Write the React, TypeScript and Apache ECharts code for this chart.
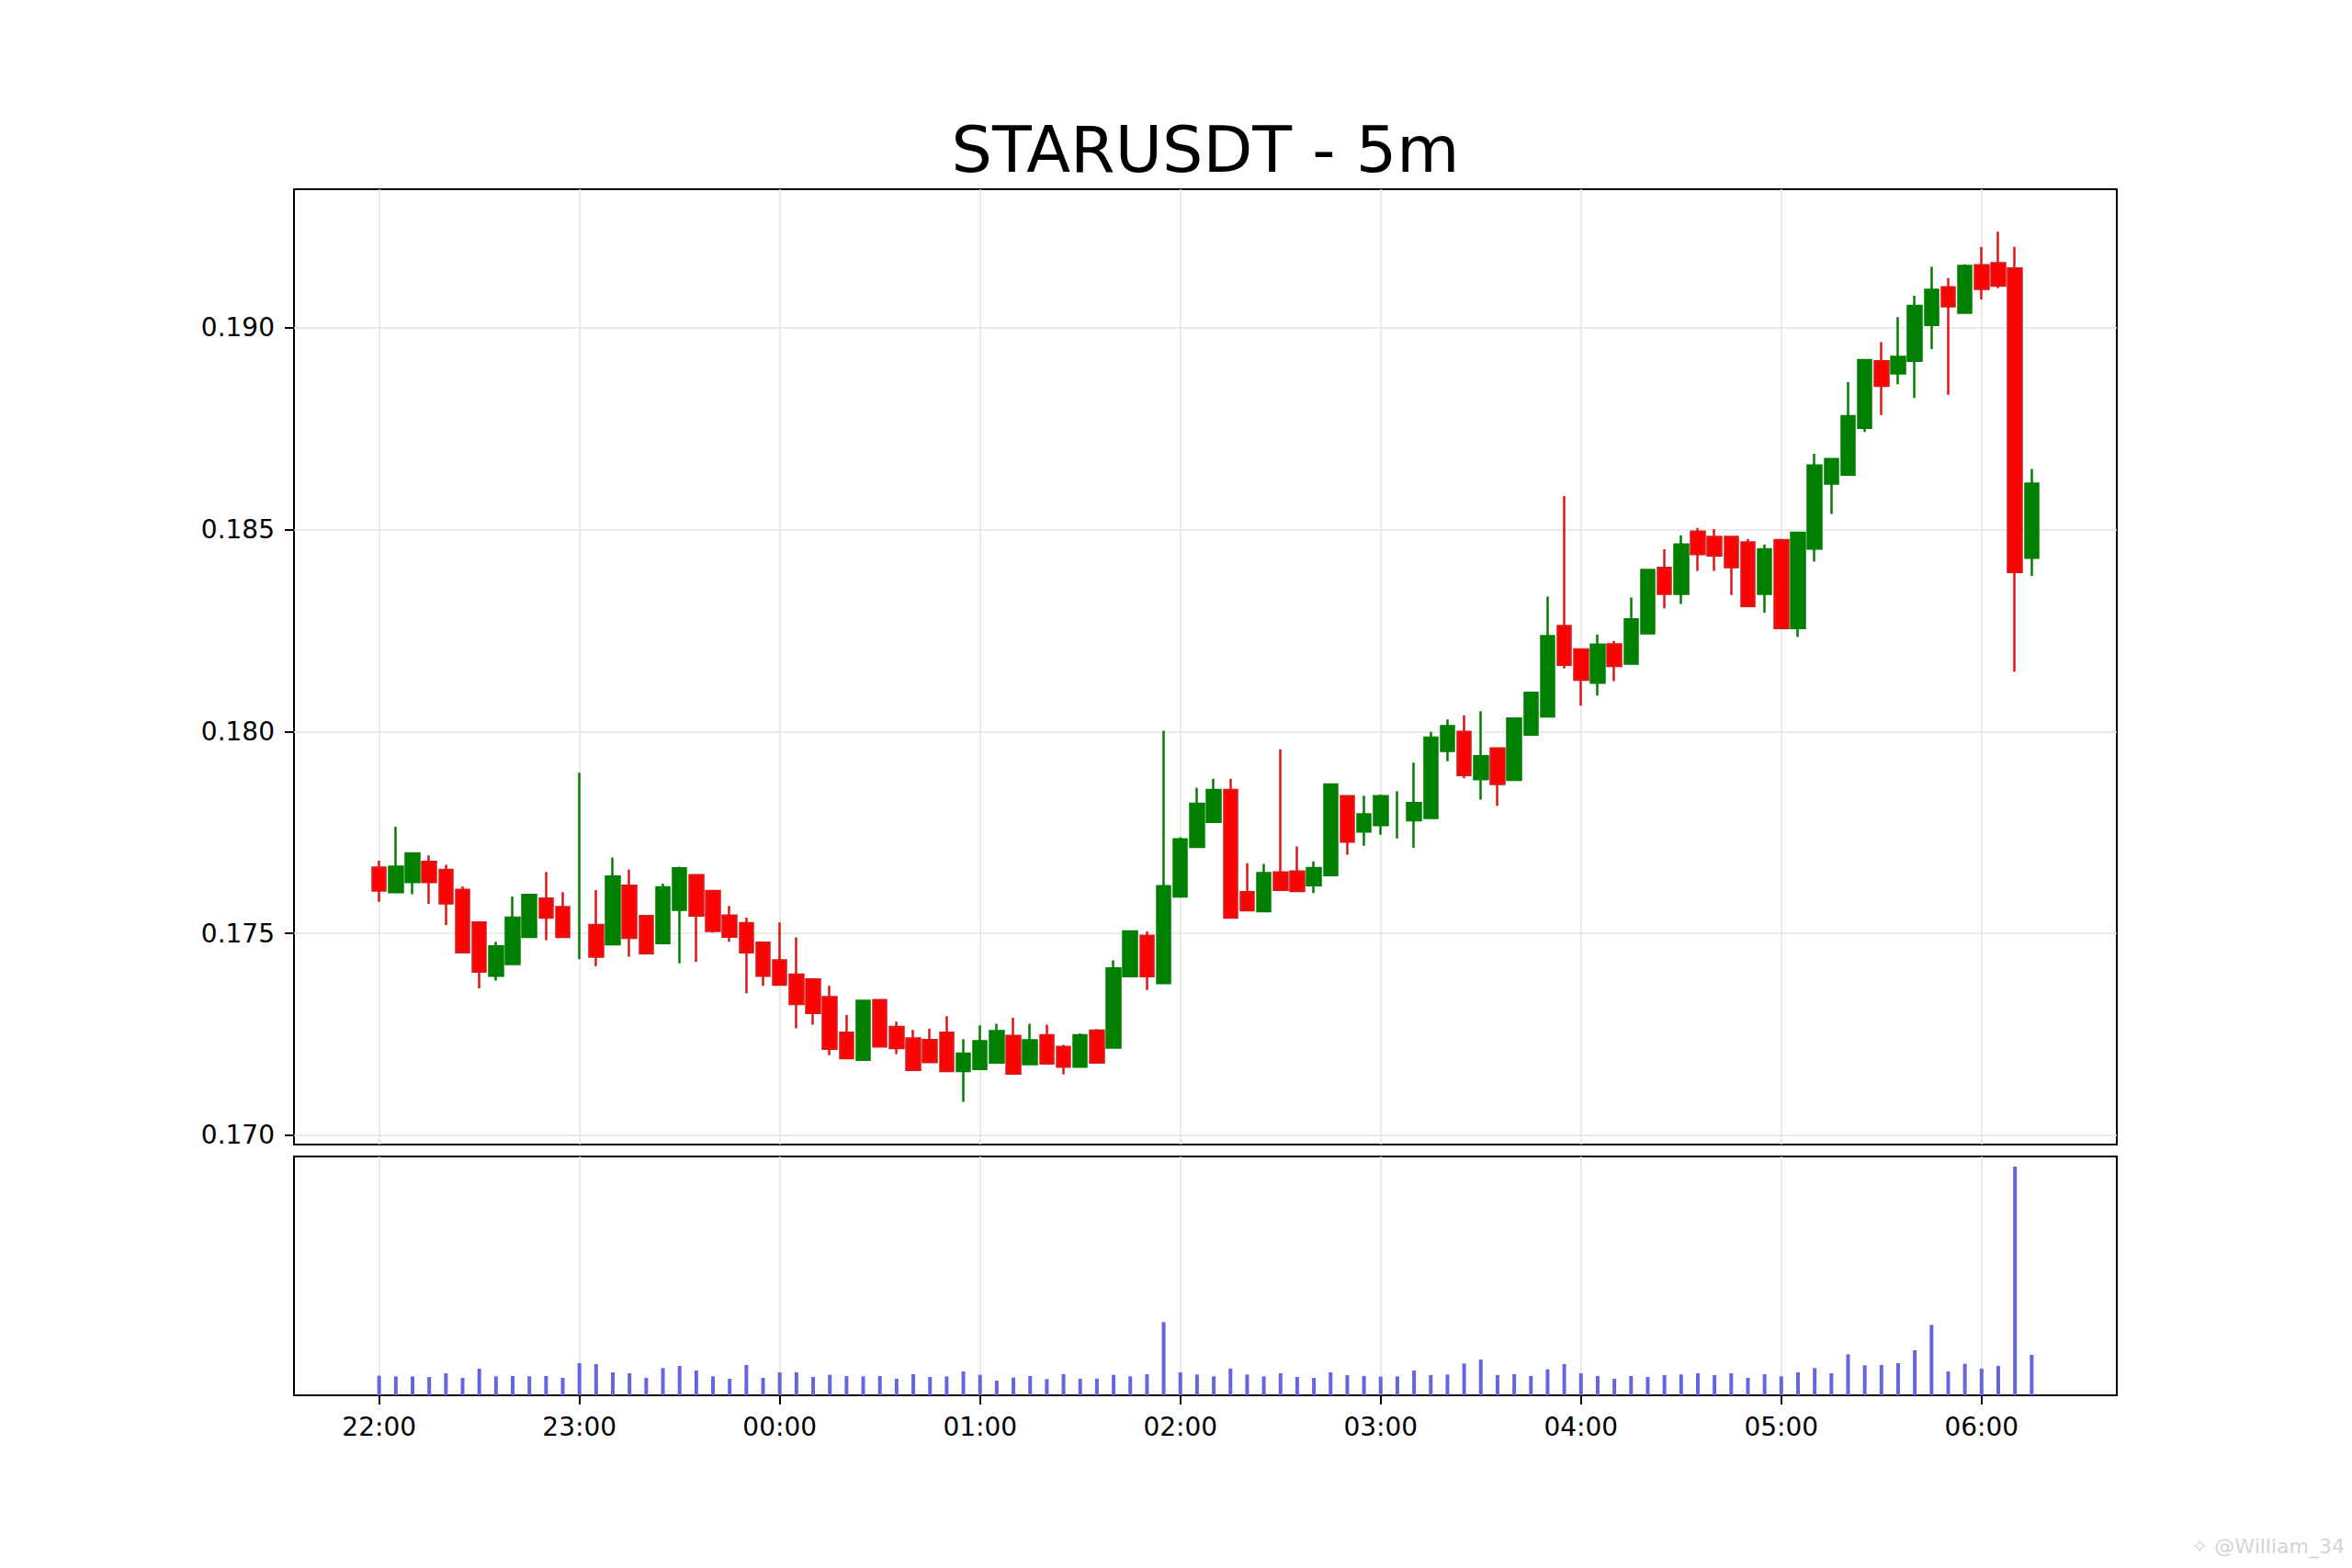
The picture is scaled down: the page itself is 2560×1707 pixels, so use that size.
import React, { useEffect, useRef } from "react";
import * as echarts from "echarts";

// ---- data ----
const START_HOUR = 22;
const STEP_MIN = 5;

const OPEN = [
  0.17663, 0.17602, 0.17627, 0.17677, 0.17657, 0.17608, 0.17527, 0.17395, 0.17424, 0.17491,
  0.17586, 0.17565, 0.175, 0.17521, 0.17473, 0.17618, 0.17543, 0.17476, 0.17558, 0.17644,
  0.17605, 0.17544, 0.17525, 0.17477, 0.17433, 0.17398, 0.17386, 0.17342, 0.17254, 0.17187,
  0.17335, 0.17268, 0.1724, 0.17236, 0.17254, 0.17159, 0.17164, 0.1718, 0.17246, 0.17176,
  0.17248, 0.17219, 0.1717, 0.17259, 0.17217, 0.17394, 0.17494, 0.17377, 0.17591, 0.17714,
  0.17776, 0.17855, 0.17602, 0.17555, 0.17651, 0.17653, 0.17619, 0.17644, 0.1784, 0.17752,
  0.17768, 0.17775, 0.1778, 0.17786, 0.17952, 0.17999, 0.17882, 0.17958, 0.1788, 0.17992,
  0.18037, 0.18261, 0.18203, 0.18121, 0.18216, 0.18168, 0.18243, 0.18405, 0.18341, 0.18495,
  0.18482, 0.18482, 0.18468, 0.18341, 0.18474, 0.18256, 0.18453, 0.18614, 0.18636, 0.18752,
  0.18917, 0.18887, 0.18918, 0.19007, 0.191, 0.19037, 0.19155, 0.1916, 0.19147, 0.1843,
];
const CLOSE = [
  0.17606, 0.17665, 0.17698, 0.17627, 0.17574, 0.17453, 0.17405, 0.17468, 0.17539, 0.17595,
  0.17539, 0.17491, 0.175, 0.17442, 0.17641, 0.17489, 0.17451, 0.17614, 0.17661, 0.17544,
  0.17506, 0.17492, 0.17453, 0.17395, 0.17373, 0.17325, 0.17303, 0.17214, 0.17191, 0.17333,
  0.1722, 0.17216, 0.17162, 0.17181, 0.17159, 0.17202, 0.17233, 0.17258, 0.17153, 0.17235,
  0.17178, 0.1717, 0.17248, 0.1718, 0.17413, 0.17505, 0.17394, 0.17617, 0.17733, 0.17821,
  0.17855, 0.17539, 0.17557, 0.17649, 0.17608, 0.17605, 0.17662, 0.17869, 0.17727, 0.17795,
  0.1784, 0.17775, 0.17823, 0.17985, 0.18013, 0.17892, 0.17939, 0.1787, 0.18032, 0.18096,
  0.18236, 0.18165, 0.18128, 0.18215, 0.18162, 0.18278, 0.184, 0.18341, 0.18463, 0.18439,
  0.18436, 0.18407, 0.18311, 0.18451, 0.18256, 0.18492, 0.18659, 0.18675, 0.18781, 0.1892,
  0.18856, 0.18928, 0.19054, 0.19094, 0.19053, 0.19153, 0.19096, 0.19104, 0.18395, 0.18614,
];
const LOW = [
  0.17578, 0.17602, 0.17597, 0.17573, 0.17521, 0.17453, 0.17364, 0.17383, 0.17424, 0.17491,
  0.17483, 0.17491, 0.17436, 0.17419, 0.17473, 0.17442, 0.17451, 0.17476, 0.17426, 0.1743,
  0.17502, 0.17479, 0.17352, 0.1737, 0.17373, 0.17265, 0.17274, 0.17198, 0.17191, 0.17187,
  0.1722, 0.17201, 0.17162, 0.17181, 0.17159, 0.17083, 0.17164, 0.1718, 0.17153, 0.17176,
  0.17178, 0.17151, 0.1717, 0.1718, 0.17217, 0.17394, 0.1736, 0.17377, 0.17591, 0.17714,
  0.17776, 0.17539, 0.17557, 0.17555, 0.17608, 0.17605, 0.176, 0.17644, 0.17695, 0.17717,
  0.17744, 0.17735, 0.17712, 0.17786, 0.17926, 0.17884, 0.17831, 0.17816, 0.1788, 0.17992,
  0.18037, 0.18156, 0.18064, 0.18089, 0.18125, 0.18168, 0.18243, 0.18305, 0.18316, 0.18398,
  0.18398, 0.18338, 0.18311, 0.18294, 0.18256, 0.18234, 0.18421, 0.18539, 0.18636, 0.18742,
  0.18784, 0.1886, 0.18826, 0.18947, 0.18834, 0.19037, 0.1907, 0.19098, 0.18148, 0.18385,
];
const HIGH = [
  0.1768, 0.17764, 0.17698, 0.17693, 0.1767, 0.17616, 0.17527, 0.17479, 0.17591, 0.17595,
  0.17652, 0.17602, 0.17898, 0.17607, 0.17688, 0.17658, 0.17543, 0.17623, 0.17665, 0.17644,
  0.17605, 0.17568, 0.17539, 0.17477, 0.17527, 0.1749, 0.17386, 0.1737, 0.17298, 0.17333,
  0.17335, 0.17281, 0.17261, 0.17264, 0.17295, 0.17238, 0.17272, 0.17276, 0.17291, 0.17276,
  0.17274, 0.17224, 0.17252, 0.17263, 0.17433, 0.17505, 0.17505, 0.18002, 0.17738, 0.1786,
  0.17883, 0.17883, 0.17674, 0.17672, 0.17956, 0.17715, 0.17678, 0.17869, 0.1784, 0.17841,
  0.17844, 0.17852, 0.17923, 0.17999, 0.1803, 0.1804, 0.1805, 0.17958, 0.18032, 0.18096,
  0.18334, 0.18583, 0.18203, 0.1824, 0.18224, 0.18332, 0.184, 0.18451, 0.18486, 0.18504,
  0.18501, 0.18482, 0.18477, 0.18463, 0.18474, 0.18492, 0.18688, 0.18675, 0.18865, 0.1892,
  0.18964, 0.19026, 0.19079, 0.19151, 0.19123, 0.19157, 0.192, 0.19238, 0.192, 0.1865,
];
const VOLUME = [
  64, 62, 62, 60, 72, 57, 87, 62, 63, 62,
  63, 57, 105, 102, 75, 72, 57, 89, 96, 81,
  62, 54, 99, 57, 75, 75, 60, 67, 63, 62,
  63, 54, 69, 60, 62, 78, 67, 48, 58, 63,
  53, 69, 54, 55, 67, 62, 69, 239, 75, 68,
  62, 87, 68, 62, 72, 60, 57, 75, 66, 63,
  61, 62, 81, 66, 68, 104, 117, 66, 69, 63,
  85, 102, 72, 63, 54, 63, 60, 66, 68, 72,
  66, 72, 57, 69, 62, 75, 89, 72, 134, 98,
  99, 105, 147, 230, 78, 103, 87, 96, 747, 132,
];

const X_TICKS = [0, 12, 24, 36, 48, 60, 72, 84, 96];
const Y_TICKS = [0.17, 0.175, 0.18, 0.185, 0.19];

const UP = "#008000";
const DOWN = "#ff0000";
const FONT = "DejaVu Sans";

function timeLabel(idx: number): string {
  const total = START_HOUR * 60 + idx * STEP_MIN;
  const h = Math.floor(total / 60) % 24;
  const m = total % 60;
  return String(h).padStart(2, "0") + ":" + String(m).padStart(2, "0");
}

export default function App() {
  const ref = useRef<HTMLDivElement>(null);

  useEffect(() => {
    document.body.style.margin = "0";
    const chart = echarts.init(ref.current!, null, { renderer: "svg" });

    const all = OPEN.map((o, i) => [i, o, CLOSE[i], LOW[i], HIGH[i]]);
    // candles with a real body
    const bodyData = all.filter((d) => d[1] !== d[2]);
    // doji candles (open === close): only the wick shows
    const dojiData = all.filter((d) => d[1] === d[2]);
    const volData = VOLUME.map((v, i) => [i, v]);

    const gridLine = { show: true, lineStyle: { color: "#e4e4e4", width: 1.5 } };

    chart.setOption({
      animation: false,
      backgroundColor: "#ffffff",
      textStyle: { fontFamily: FONT },
      graphic: [
        {
          type: "text",
          x: 1312,
          y: 163,
          style: {
            text: "STARUSDT - 5m",
            font: `70px '${FONT}'`,
            fill: "#000",
            textAlign: "center",
            textVerticalAlign: "middle",
          },
        },
        {
          type: "text",
          x: 2552,
          y: 1683,
          style: {
            text: "\u2727 @William_34",
            font: `22px '${FONT}'`,
            fill: "#d4d4d4",
            textAlign: "right",
            textVerticalAlign: "middle",
          },
        },
      ],
      grid: [
        {
          left: 320,
          top: 206,
          width: 1984,
          height: 1040,
          show: true,
          borderColor: "#000",
          borderWidth: 2,
          backgroundColor: "transparent",
        },
        {
          left: 320,
          top: 1259,
          width: 1984,
          height: 260,
          show: true,
          borderColor: "#000",
          borderWidth: 2,
          backgroundColor: "transparent",
        },
      ],
      xAxis: [
        {
          type: "value",
          gridIndex: 0,
          min: -5.1,
          max: 104.1,
          axisLine: { show: false, onZero: false },
          axisTick: { show: false, customValues: X_TICKS },
          axisLabel: { show: false, customValues: X_TICKS },
          splitLine: gridLine,
        },
        {
          type: "value",
          gridIndex: 1,
          min: -5.1,
          max: 104.1,
          axisLine: { show: false, onZero: false },
          axisTick: {
            show: true,
            inside: false,
            length: 10,
            customValues: X_TICKS,
            lineStyle: { color: "#000", width: 2 },
          },
          axisLabel: {
            show: true,
            customValues: X_TICKS,
            margin: 20,
            fontSize: 28,
            fontFamily: FONT,
            color: "#000",
            formatter: (v: number) => timeLabel(Math.round(v)),
          },
          splitLine: gridLine,
        },
      ],
      yAxis: [
        {
          type: "value",
          gridIndex: 0,
          position: "left",
          min: 0.16977,
          max: 0.19343,
          axisLine: { show: false, onZero: false },
          axisTick: {
            show: true,
            inside: false,
            length: 10,
            customValues: Y_TICKS,
            lineStyle: { color: "#000", width: 2 },
          },
          axisLabel: {
            show: true,
            customValues: Y_TICKS,
            margin: 21,
            fontSize: 28,
            fontFamily: FONT,
            color: "#000",
            formatter: (v: number) => v.toFixed(3),
          },
          splitLine: gridLine,
        },
        {
          type: "value",
          gridIndex: 1,
          min: 0,
          max: 780,
          axisLine: { show: false, onZero: false },
          axisTick: { show: false },
          axisLabel: { show: false },
          splitLine: { show: false },
        },
      ],
      series: [
        {
          type: "candlestick",
          xAxisIndex: 0,
          yAxisIndex: 0,
          data: bodyData,
          encode: { x: 0, y: [1, 2, 3, 4] },
          barWidth: 15,
          itemStyle: {
            color: UP,
            color0: DOWN,
            borderColor: UP,
            borderColor0: "#e01414",
            borderColorDoji: UP,
            borderWidth: 2.5,
          },
        },
        {
          type: "candlestick",
          xAxisIndex: 0,
          yAxisIndex: 0,
          data: dojiData,
          encode: { x: 0, y: [1, 2, 3, 4] },
          barWidth: 0,
          barMinWidth: 0,
          itemStyle: {
            color: UP,
            color0: UP,
            borderColor: UP,
            borderColor0: UP,
            borderColorDoji: UP,
            borderWidth: 2.5,
          },
        },
        {
          type: "bar",
          xAxisIndex: 1,
          yAxisIndex: 1,
          data: volData,
          barWidth: 4,
          itemStyle: { color: "#6565e2" },
        },
      ],
    });

    return () => chart.dispose();
  }, []);

  return (
    <div
      ref={ref}
      style={{ position: "absolute", left: 0, top: 0, width: 2560, height: 1707 }}
    />
  );
}
